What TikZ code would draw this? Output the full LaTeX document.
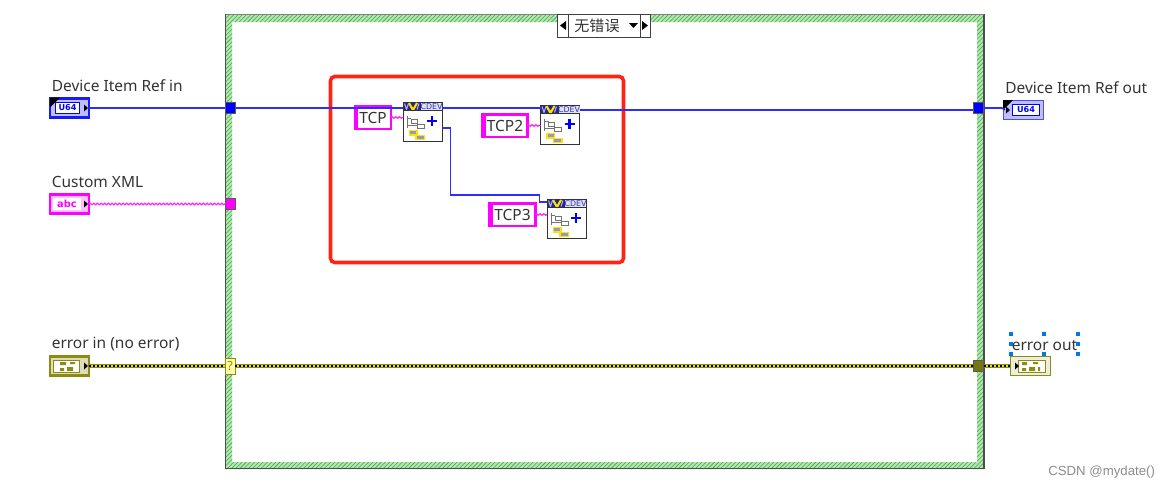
\documentclass[tikz,border=0pt]{standalone}
\usepackage{fontspec}
\setmainfont{Noto Sans}
\newfontfamily\cjkfont{Noto Sans CJK SC}
\newfontfamily\markfont{Liberation Sans}
\newfontfamily\iconfont{DejaVu Sans}
\usepackage{tikz}
\usetikzlibrary{patterns}
\usetikzlibrary{positioning}
\usetikzlibrary{decorations.pathmorphing}
\definecolor{lvblue}{RGB}{45,45,255}
\definecolor{lvpink}{RGB}{255,0,255}
\definecolor{lvolive}{RGB}{140,140,20}
\definecolor{lvyellow}{RGB}{225,225,40}
\definecolor{lvred}{RGB}{255,35,20}
\definecolor{lvframe}{RGB}{175,235,175}
\definecolor{lvhandle}{RGB}{0,120,225}
\tikzset{
  lbl/.style={font=\fontsize{11}{13}\selectfont,text=black!80,inner sep=0pt,anchor=west},
  termbox/.style={rectangle,minimum width=0.975cm,minimum height=0.475cm,inner sep=0pt,outer sep=0pt},
  tunnel/.style={rectangle,draw=black!65,line width=0.6pt,minimum width=0.26cm,minimum height=0.26cm,inner sep=0pt,outer sep=0pt},
  constbox/.style={rectangle,draw=lvpink,fill=white,line width=2pt,inner sep=0pt,outer sep=0pt,minimum height=0.57cm,font=\fontsize{11}{13}\selectfont,text=black!80},
  vibox/.style={rectangle,draw=black!80,fill=white,line width=0.7pt,minimum width=0.975cm,minimum height=0.975cm,inner sep=0pt,outer sep=0pt,anchor=north west},
  bluewire/.style={draw=lvblue,line width=1.1pt},
  pinkwire/.style={draw=lvpink!85,line width=0.9pt,decorate,decoration={snake,segment length=2.6pt,amplitude=0.55pt}},
  errback/.style={draw=lvolive,line width=3.2pt},
  errfill/.style={draw=lvyellow,line width=1.9pt},
  errdots/.style={draw=black,line width=1.5pt,dash pattern=on 1.4pt off 1.445pt},
  handle/.style={rectangle,fill=lvhandle,minimum size=0.08cm,inner sep=0pt,outer sep=0pt},
  tinytri/.style={fill=black,draw=none},
}
\newcommand{\cdevnode}[2]{
\node[vibox] (#1) at (#2) {};
\begin{scope}[shift={(#2)}]
\fill[blue!45!black!85] (0.5,0.5) rectangle (18,8.5);
\fill[blue!12] (18,0.5) rectangle (39,8.5);
\draw[yellow!85!orange,line width=1.5pt] (6,1) -- (10,8) -- (14,1);
\draw[blue!30,line width=0.7pt] (1.5,1.5) -- (3.5,7.5) -- (5.5,1.5);
\draw[blue!30,line width=0.7pt] (14,7.5) -- (16,1.5);
\draw[black!80,line width=0.5pt] (0,8.7) -- (39.5,8.7);
\node[inner sep=0pt,font=\iconfont\fontsize{5.6}{6}\selectfont,text=blue!55!black!80] (#1cap) at (28.5,4.6) {CDEV};
\draw[black!55,line width=0.6pt] (4,14) -- (4,26) (4,16) -- (8,16) (4,23) -- (14,23) (8,28) -- (8,33);
\draw[black!55,fill=white,line width=0.5pt] (8,17) rectangle (14,21) (14,22) rectangle (21,26);
\draw[yellow!85!orange,fill=blue!35!black!40,line width=0.9pt] (6.5,28.5) rectangle (14,33) (13,33.5) rectangle (21.5,37.5);
\draw[blue,line width=1.6pt] (24,19) -- (34,19) (29,14) -- (29,24);
\end{scope}
}
\begin{document}
\begin{tikzpicture}[x=0.025cm,y=-0.025cm]
\useasboundingbox (0,0) rectangle (1167,489);

\fill[lvframe,even odd rule] (225,14) rectangle (984,469) (232,22) rectangle (977,462);
\fill[pattern=north east lines,pattern color=green!45!black!70,even odd rule] (225,14) rectangle (984,469) (232,22) rectangle (977,462);
\draw[black!70,line width=1pt] (225.5,14) -- (225.5,468.5) -- (984,468.5) -- (984,14);
\draw[black!50,line width=0.8pt] (225.5,14.5) -- (984,14.5);

\node[rectangle,draw=black!75,fill=white,line width=0.7pt,minimum width=2.325cm,minimum height=0.575cm,inner sep=0pt,outer sep=0pt] (casesel) at (604,25.5) {};
\draw[black!75,line width=0.7pt] (568,14) -- (568,37) (640,14) -- (640,37);
\node[inner sep=0pt,font=\cjkfont\fontsize{10.7}{12}\selectfont,text=black!80] (casename) at (597,25.5) {无错误};
\fill[tinytri] (560,25.5) -- (566,21) -- (566,30) -- cycle;
\fill[tinytri] (648,25.5) -- (642,21) -- (642,30) -- cycle;
\fill[tinytri] (629,23) -- (638,23) -- (633.5,28) -- cycle;

\node[lbl] (lblrefin) at (51.5,85.5) {Device Item Ref in};
\node[lbl] (lblxml) at (51.5,182) {Custom XML};
\node[lbl] (lblerrin) at (51.5,344.5) {error in (no error)};
\node[lbl] (lblrefout) at (1005,88) {Device Item Ref out};
\node[lbl] (lblerrout) at (1011.5,345) {error out};

\node[termbox,draw=blue!90,fill=blue!25,line width=1.7pt] (refin) at (69.5,108) {};
\node[rectangle,draw=blue,fill=white,line width=0.6pt,minimum width=0.6cm,minimum height=0.26cm,inner sep=0pt,font=\iconfont\bfseries\fontsize{5.8}{7}\selectfont,text=blue] (refintxt) at (67.5,108) {U64};
\fill[tinytri] (50,97.5) -- (60,97.5) -- (50,107.5) -- cycle;
\fill[tinytri] (88,108) -- (84,104.5) -- (84,111.5) -- cycle;

\node[termbox,draw=lvpink,fill=lvpink!25,line width=1.7pt] (xmlin) at (69.5,204) {};
\node[rectangle,fill=white,minimum width=0.68cm,minimum height=0.3cm,inner sep=0pt,font=\iconfont\bfseries\fontsize{7}{8}\selectfont,text=lvpink] (xmltxt) at (67,204) {abc};
\fill[tinytri] (88,204) -- (84,200.5) -- (84,207.5) -- cycle;

\node[termbox,draw=lvolive,fill=lvolive!30,line width=1.7pt] (errin) at (69.5,366) {};
\node[rectangle,draw=lvolive,fill=white,line width=0.4pt,minimum width=0.65cm,minimum height=0.3cm,inner sep=0pt] (errintxt) at (66.5,366) {};
\fill[lvolive] (60,362) rectangle (66,365) (70,362) rectangle (75,364) (60,368) rectangle (64,371) (67,367) rectangle (73,371);
\fill[tinytri] (88,366) -- (84,362.5) -- (84,369.5) -- cycle;

\node[termbox,draw=blue!70,fill=blue!25,line width=0.7pt,minimum width=1cm] (refout) at (1023.5,110) {};
\node[rectangle,draw=blue,fill=white,line width=0.6pt,minimum width=0.68cm,minimum height=0.26cm,inner sep=0pt,font=\iconfont\bfseries\fontsize{5.8}{7}\selectfont,text=blue] (refouttxt) at (1026,110) {U64};
\fill[tinytri] (1003,100) -- (1013,100) -- (1003,110) -- cycle;
\fill[tinytri] (1010,110) -- (1006,106.5) -- (1006,113.5) -- cycle;

\node[termbox,draw=lvolive,fill=lvolive!15,line width=0.7pt,minimum width=1cm] (errout) at (1030,366) {};
\node[rectangle,draw=lvolive,fill=white,line width=0.4pt,minimum width=0.68cm,minimum height=0.3cm,inner sep=0pt] (errouttxt) at (1032,366) {};
\fill[lvolive] (1022,362) rectangle (1027,365) (1033,362) rectangle (1038,364) (1022,368) rectangle (1026,371) (1029,367) rectangle (1035,371) (1038,367) rectangle (1040,371);
\fill[tinytri] (1019,366) -- (1015,362.5) -- (1015,369.5) -- cycle;

\node[tunnel,fill=blue] (tunrefl) at (230.5,108) {};
\node[tunnel,fill=blue] (tunrefr) at (978.5,108) {};
\node[tunnel,fill=lvpink] (tunxml) at (230.5,204) {};
\node[tunnel,draw=lvolive,fill=yellow!35,minimum width=0.25cm,minimum height=0.4cm,text=lvolive,font=\fontsize{9}{10}\selectfont] (tunerrl) at (230,366) {?};
\node[tunnel,fill=lvolive!85!black] (tunerrr) at (978.5,366) {};

\draw[lvred,line width=2.5pt,rounded corners=3pt] (330.5,76.5) rectangle (623.5,262.5);

\cdevnode{addone}{403,102}
\cdevnode{addtwo}{540.5,105}
\cdevnode{addthree}{547,199}

\node[constbox,minimum width=0.9cm] (tcpone) at (373,117.5) {TCP};
\node[constbox,minimum width=1.12cm] (tcptwo) at (505,125.5) {TCP2};
\node[constbox,minimum width=1.14cm] (tcpthree) at (512.5,214.5) {TCP3};
\fill[lvpink] (tcpone.north west) rectangle ++(3,22.8);
\fill[lvpink] (tcptwo.north west) rectangle ++(3,22.8);
\fill[lvpink] (tcpthree.north west) rectangle ++(3,22.8);

\coordinate (oneout) at (442.5,128);
\coordinate (threein) at (547,202);
\coordinate (refjog) at (1002,108);

\draw[bluewire] (refin.east) -- (tunrefl.west);
\draw[bluewire] (tunrefl.east) -- (addone.north west |- tunrefl.east);
\draw[bluewire] (addone.north east |- tunrefl.east) -- (addtwo.north west |- tunrefl.east);
\draw[bluewire] (addtwo.north east |- 0,110) -- (tunrefr.west |- 0,110);
\draw[bluewire] (tunrefr.east) -- (refjog) -- (1005,110);
\draw[bluewire] (oneout) -- (450.5,128) -- (450.5,195) -- (539.5,195) -- (539.5,202) -- (threein);
\draw[pinkwire] (xmlin.east) -- (tunxml.west);
\draw[pinkwire] (tcpone.east) -- (addone.west |- tcpone.east);
\draw[pinkwire] (tcptwo.east) -- (addtwo.west |- tcptwo.east);
\draw[pinkwire] (tcpthree.east) -- (addthree.west |- tcpthree.east);
\foreach \wa/\wb in {errin.east/tunerrl.west,tunerrl.east/tunerrr.west,tunerrr.east/errout.west}{
\draw[errback] (\wa) -- (\wb);
\draw[errfill] (\wa) -- (\wb);
\draw[errdots] (\wa) -- (\wb);
}

\node[handle] (ha) at (1011,334) {};
\node[handle] (hb) at (1044,334) {};
\node[handle] (hc) at (1078,334) {};
\node[handle] (hd) at (1011,344) {};
\node[handle] (he) at (1078,344) {};
\node[handle] (hf) at (1011,354) {};
\node[handle] (hg) at (1044,354) {};
\node[handle] (hh) at (1078,354) {};

\node[inner sep=0pt,anchor=west,text=black!45,font=\markfont\fontsize{9.4}{11}\selectfont] (csdn) at (1048,472) {CSDN @mydate()};
\end{tikzpicture}
\end{document}
